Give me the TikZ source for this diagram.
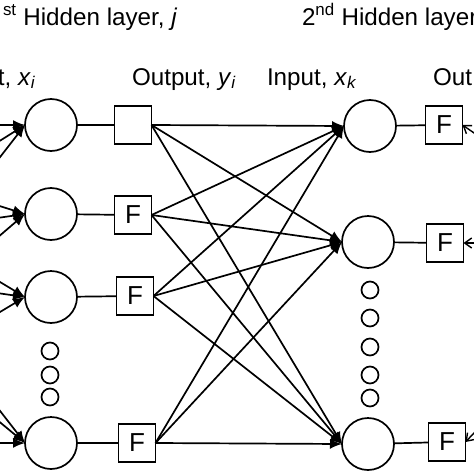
\documentclass[tikz,border=0pt]{standalone}
\usepackage{fontspec}
\setmainfont{Liberation Sans}
\usetikzlibrary{arrows.meta}
\begin{document}
\begin{tikzpicture}[x=1pt,y=-1pt,
  every node/.style={inner sep=0pt,outer sep=0pt},
  neuron/.style={draw,circle,line width=1.7pt,minimum size=52pt},
  dotn/.style={draw,circle,line width=1.7pt,minimum size=17pt},
  fbox/.style={draw,rectangle,line width=1.7pt,minimum width=37pt,minimum height=38pt,font=\fontsize{26}{28}\selectfont},
  lbl/.style={anchor=base west,font=\fontsize{24.2}{28}\selectfont},
  link/.style={line width=1.7pt},
  inarrow/.style={line width=1.7pt,-{Latex[length=12pt,width=10pt]}},
  openarrow/.style={line width=1.4pt,-{Straight Barb[length=7pt,width=10pt]}}]
\useasboundingbox (0,0) rectangle (474,474);
\clip (0,0) rectangle (474,474);

% titles
\node[lbl] (t1) at (3,25) {\textsuperscript{st} Hidden layer, \textit{j}};
\node[lbl] (t2) at (302,25) {2\textsuperscript{nd} Hidden layer};
\node[lbl] (t3) at (-2,85) {t, \textit{x}\textsubscript{\textit{i}}};
\node[lbl] (t4) at (132,85) {Output, \textit{y}\textsubscript{\textit{i}}};
\node[lbl] (t5) at (267,85) {Input, \textit{x}\textsubscript{\textit{k}}};
\node[lbl] (t6) at (433,85) {Out};

% first hidden layer
\node[neuron] (c1) at (51,125) {};
\node[neuron] (c2) at (51,214) {};
\node[neuron] (c3) at (51,297) {};
\node[neuron] (c4) at (51,443) {};
\node[dotn] (s1) at (50,351) {};
\node[dotn] (s2) at (50,375) {};
\node[dotn] (s3) at (50,397) {};

\node[fbox] (b1) at (133,125) {};
\node[fbox] (b2) at (133,215) {F};
\node[fbox] (b3) at (135,296) {F};
\node[fbox] (b4) at (137,443) {F};

\foreach \i in {1,2,3,4} \draw[link] (c\i) -- (b\i);

% second hidden layer
\node[neuron] (d1) at (370,126) {};
\node[neuron] (d2) at (368,242) {};
\node[neuron] (d3) at (368,444) {};
\node[dotn] (r1) at (370,290) {};
\node[dotn] (r2) at (370,318) {};
\node[dotn] (r3) at (370,347) {};
\node[dotn] (r4) at (370,375) {};
\node[dotn] (r5) at (370,398) {};

\node[fbox] (e1) at (444,125) {F};
\node[fbox] (e2) at (445,243) {F};
\node[fbox] (e3) at (447,442) {F};

\foreach \i in {1,2,3} \draw[link] (d\i) -- (e\i);

% full connections
\foreach \i in {1,2,3,4}
  \foreach \j in {1,2,3}
    \draw[inarrow] (b\i.east) -- (d\j.west);

% input fans on the left
\coordinate (a11) at (-10,125);
\coordinate (a12) at (-10,147);
\coordinate (a13) at (-10,170);
\coordinate (a21) at (-10,203);
\coordinate (a22) at (-10,219);
\coordinate (a23) at (-10,244);
\coordinate (a31) at (-10,276);
\coordinate (a32) at (-10,292);
\coordinate (a33) at (-10,318);
\coordinate (a41) at (-10,398);
\coordinate (a42) at (-10,414);
\coordinate (a43) at (-10,443);
\foreach \i in {1,2,3,4}
  \foreach \k in {1,2,3}
    \draw[inarrow] (a\i\k) -- (c\i.west);

% inputs on the right
\coordinate (f1) at (490,144);
\coordinate (f2) at (490,243);
\coordinate (f3) at (490,416);
\draw[openarrow] (f1) -- (e1.east);
\draw[openarrow] (f2) -- (e2.east);
\draw[openarrow] (f3) -- (e3.east);
\end{tikzpicture}
\end{document}
